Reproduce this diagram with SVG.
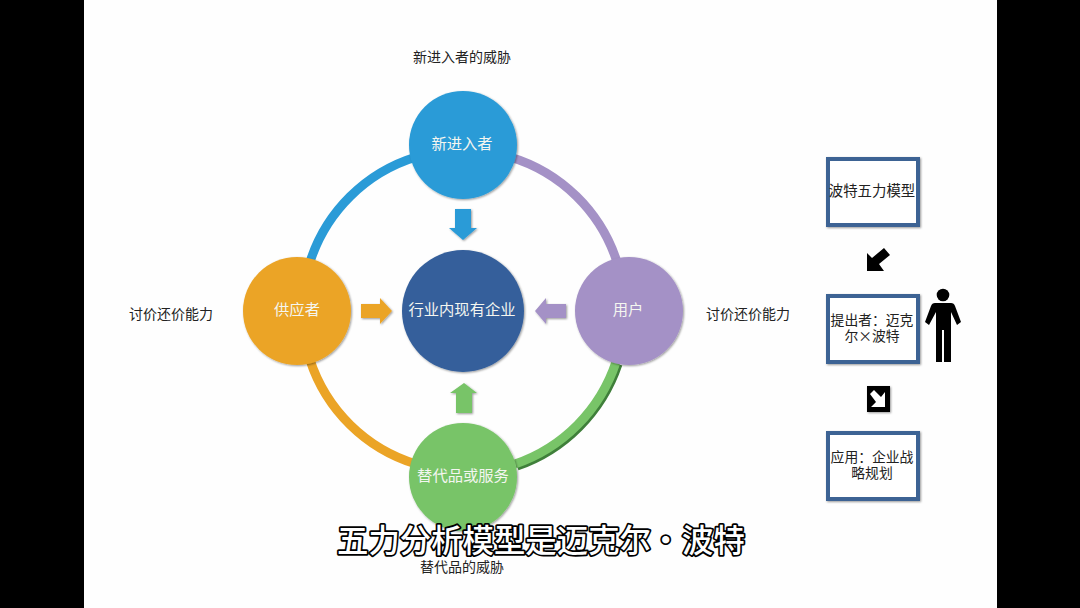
<svg xmlns="http://www.w3.org/2000/svg" width="1080" height="608" viewBox="0 0 1080 608">
<defs>
<style>
text{font-family:"Noto Sans CJK SC","Noto Sans",sans-serif;text-anchor:middle}
.w{fill:#f4f6f0;font-size:15.3px}
.k{fill:#222;font-size:14px}
.b{fill:#222;font-size:14.4px}
.c{fill:#222;font-size:13.8px}
.box{fill:#fff;stroke:#3e6494;stroke-width:4;filter:url(#s)}
.cap{font-size:31.4px;font-weight:500;fill:#fff;stroke:#000;stroke-width:3.5;paint-order:stroke;stroke-linejoin:round;text-anchor:start}
.arc{fill:none;stroke-width:9}
</style>
<filter id="s" x="-20%" y="-20%" width="140%" height="140%"><feDropShadow dx="1" dy="1" stdDeviation="1" flood-color="#000" flood-opacity=".4"/></filter>
</defs>
<rect width="1080" height="608" fill="#000"/>
<rect x="84" y="0" width="913" height="608" fill="#fefefe"/>
<g id="connectors">
<path class="arc" stroke="#2a9bd7" d="M310 262A161 161 0 0 1 416 157"/>
<path class="arc" stroke="#a491c6" d="M510 157A161 161 0 0 1 617 262"/>
<path class="arc" stroke="#3f7f3a" d="M618 364A163 163 0 0 1 517 466"/>
<path class="arc" stroke="#78c468" d="M616 362A161 161 0 0 1 515 464"/>
<path class="arc" stroke="#eba426" d="M310 360A161 161 0 0 0 416 464"/>
<path d="M455 209H471V228H477L463 240L449 228H455Z" fill="#2a9bd7" filter="url(#s)"/>
<path d="M361 304H380V298L392 311L380 324V318H361Z" fill="#eba426" filter="url(#s)"/>
<path d="M566 304H546V298L535 311L546 324V318H566Z" fill="#a491c6" filter="url(#s)"/>
<path d="M456 413H472V393H477L464 383L450 393H456Z" fill="#78c468" filter="url(#s)"/>
<path d="M867 271V253L872 258L884 248L890 255L879 264L884 271Z" fill="#000"/>
<rect x="867" y="386" width="23" height="26" fill="#000" filter="url(#s)"/>
<path d="M870 394L874 390L881 397L885 392V407H871L876 402Z" fill="#fff"/>
</g>
<g id="node-new"><circle cx="463" cy="145" r="54" fill="#2a9bd7" filter="url(#s)"/><text class="w" x="462" y="149">新进入者</text></g>
<g id="node-supplier"><circle cx="297" cy="311" r="54" fill="#eba426" filter="url(#s)"/><text class="w" x="297" y="315">供应者</text></g>
<g id="node-user"><circle cx="629" cy="311" r="54" fill="#a491c6" filter="url(#s)"/><text class="w" x="628" y="315">用户</text></g>
<g id="node-sub"><circle cx="463" cy="477" r="54" fill="#78c468" filter="url(#s)"/><text class="w" x="463" y="481">替代品或服务</text></g>
<g id="node-center"><circle cx="463" cy="311" r="61" fill="#345f9b" filter="url(#s)"/><text class="w" x="462" y="315">行业内现有企业</text></g>
<g id="labels">
<text class="k" x="462" y="62">新进入者的威胁</text>
<text class="k" x="171" y="319">讨价还价能力</text>
<text class="k" x="748" y="319">讨价还价能力</text>
<text class="k" x="462" y="572">替代品的威胁</text>
</g>
<g id="box1"><rect class="box" x="828" y="159" width="90" height="66"/><text class="b" x="872" y="196">波特五力模型</text></g>
<g id="box2"><rect class="box" x="828" y="296" width="90" height="66"/><text class="c" x="872" y="325">提出者：迈克</text><text class="c" x="872" y="341">尔×波特</text></g>
<g id="box3"><rect class="box" x="828" y="433" width="90" height="66"/><text class="c" x="872" y="462">应用：企业战</text><text class="c" x="872" y="478">略规划</text></g>
<g id="person" fill="#000"><circle cx="943" cy="295" r="6.3"/><path d="M935 303H951Q954 303 955 306L961 322L957 325L951 312V362H944V330H942V362H936V312L929 325L925 322L931 306Q932 303 935 303Z"/></g>
<text class="cap" y="552"><tspan x="337">五力分析模型是迈克尔</tspan><tspan x="650">·</tspan><tspan x="682">波特</tspan></text>
</svg>
